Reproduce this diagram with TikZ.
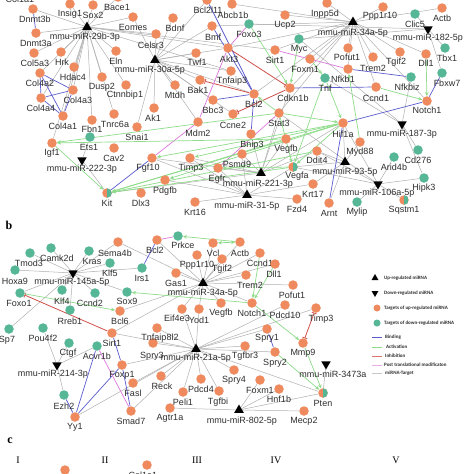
\documentclass[tikz,border=0pt]{standalone}
\usepackage{fontspec}
\setmainfont{Liberation Sans}
\newfontfamily\legf{Carlito}
\newfontfamily\serf{Liberation Serif}
\usetikzlibrary{shapes.geometric,arrows.meta}
\definecolor{cOr}{HTML}{EE8A5E}
\definecolor{cTe}{HTML}{55B795}
\definecolor{cGr}{HTML}{8EDC8A}
\definecolor{cBl}{HTML}{5B5BCF}
\definecolor{cRd}{HTML}{D0504A}
\definecolor{cPk}{HTML}{DC78DC}
\definecolor{cLn}{HTML}{B0B0B0}
\definecolor{cTx}{HTML}{2E2E2E}
\pgfdeclarelayer{bg}
\pgfsetlayers{bg,main}
\tikzset{
 ot/.style={circle,fill=cOr,minimum size=9.5pt,inner sep=0pt},
 tt/.style={circle,fill=cTe,minimum size=9.5pt,inner sep=0pt},
 mx/.style={circle,fill=cOr,minimum size=9.5pt,inner sep=0pt,
   path picture={\fill[cTe] (path picture bounding box.south) rectangle (path picture bounding box.north east);}},
 mup/.style={regular polygon,regular polygon sides=3,fill=black,minimum size=11pt,inner sep=0pt},
 mdn/.style={mup,shape border rotate=180},
 lb/.style={font=\fontsize{9}{10}\selectfont,text=cTx,inner sep=0pt},
 lg/.style={font=\legf\bfseries\fontsize{5}{6}\selectfont,text=cTx,inner sep=0pt,anchor=west},
 pl/.style={font=\serf\bfseries\fontsize{12}{13}\selectfont,inner sep=0pt},
 rn/.style={font=\serf\fontsize{10}{11}\selectfont,inner sep=0pt},
 mtl/.style={draw=cLn,line width=0.5pt},
 bnd/.style={draw=cBl,line width=0.7pt},
 act/.style={draw=cGr,line width=0.7pt,-{Stealth[length=4pt,width=3.5pt]}},
 inh/.style={draw=cRd,line width=0.8pt,-{Bar[width=5pt]}},
 ptm/.style={draw=cPk,line width=0.7pt},
}
\newcommand\gO[4]{\node[ot] (#1) at (#2) {}; \node[lb] (#1l) at (#3) {#4};}
\newcommand\gT[4]{\node[tt] (#1) at (#2) {}; \node[lb] (#1l) at (#3) {#4};}
\newcommand\gM[4]{\node[mx] (#1) at (#2) {}; \node[lb] (#1l) at (#3) {#4};}
\newcommand\mU[4]{\node[mup] (#1) at (#2) {}; \node[lb] (#1l) at (#3) {#4};}
\newcommand\mD[4]{\node[mdn] (#1) at (#2) {}; \node[lb] (#1l) at (#3) {#4};}
\newcommand\mtg[2]{\foreach \t in {#2} \draw[mtl] (#1) -- (\t);}
\begin{document}
\begin{tikzpicture}[x=1pt,y=-1pt]
\useasboundingbox (0,0) rectangle (474,474);
% ---------------- panel a ----------------
\node[lb] (aTop) at (20,-1) {Col1a1};
\gO{aIns}{70,4}{70,14}{Insig1}
\gO{aSox2}{93,5}{93,15}{Sox2}
\gO{aBace}{118,-3}{117,7}{Bace1}
\gO{aEom}{133,17}{133,27}{Eomes}
\gO{aDn3b}{33,9}{35,19}{Dnmt3b}
\gO{aDn3a}{36,33}{36,43}{Dnmt3a}
\gO{aC5a3}{34,53}{35,63}{Col5a3}
\gO{aHrk}{61,52}{62,62}{Hrk}
\gO{aC4a2}{40,73}{40,83}{Col4a2}
\gO{aHdac}{74,67}{73,77}{Hdac4}
\gO{aC4a3}{73,90}{78,100}{Col4a3}
\gO{aC4a4}{41,98}{41,108}{Col4a4}
\gO{aC4a1}{63,116}{63,126}{Col4a1}
\gO{aDusp}{102,77}{102,87}{Dusp2}
\gO{aEln}{116,51}{116,61}{Eln}
\gO{aCtn}{126,85}{125,95}{Ctnnbip1}
\gO{aTnr}{114,114}{115,124}{Tnrc6a}
\gO{aFbn}{92,120}{92,129}{Fbn1}
\gO{aCel}{156,34}{151,45}{Celsr3}
\gO{aBdnf}{173,18}{175,28}{Bdnf}
\gO{aB2l11}{207,0}{208,10}{Bcl2l11}
\gO{aAbc}{232,4}{233,15}{Abcb1b}
\gO{aBmf}{212,26}{213,37}{Bmf}
\gT{aFoxo3}{249,24}{249,34}{Foxo3}
\gO{aUcp2}{285,15}{285,25}{Ucp2}
\gT{aMyc}{299,39}{299,49}{Myc}
\gO{aAkt3}{228,48}{229,59}{Akt3}
\gO{aSirt1}{275,50}{275,60}{Sirt1}
\gO{aTwf1}{196,53}{197,62}{Twf1}
\gO{aTnfa}{231,71}{232,81}{Tnfaip3}
\gO{aFoxm1}{310,59}{305,69}{Foxm1}
\gO{aBak1}{200,80}{198,90}{Bak1}
\gO{aMtdh}{175,85}{175,95}{Mtdh}
\gO{aAk1}{154,108}{153,118}{Ak1}
\gO{aBcl2}{254,94}{254,104}{Bcl2}
\gO{aCdk}{290,88}{293,98}{Cdkn1b}
\gO{aBbc3}{213,100}{213,110}{Bbc3}
\gO{aCcne2}{233,114}{233,125}{Ccne2}
\gO{aStat3}{279,113}{279,123}{Stat3}
\gO{aMdm2}{198,122}{198,133}{Mdm2}
\gO{aSnai}{137,127}{137,137}{Snai1}
\gO{aInpp}{327,3}{325,14}{Inpp5d}
\gO{aPpp}{383,7}{380,16}{Ppp1r10}
\gO{aActb}{442,8}{442,18}{Actb}
\gT{aClic}{415,14}{415,24}{Clic5}
\gT{aTbx1}{445,48}{447,58}{Tbx1}
\gO{aPof}{348,48}{347,57}{Pofut1}
\gO{aTrem}{373,57}{373,68}{Trem2}
\gO{aTgif}{400,52}{396,62}{Tgif2}
\gO{aDll1}{426,54}{426,63}{Dll1}
\gT{aFbxw}{442,73}{447,83}{Fbxw7}
\gO{aNfkb}{348,69}{343,79}{Nfkb1}
\gT{aTnf}{325,78}{325,88}{Tnf}
\gT{aNfkz}{411,77}{407,87}{Nfkbiz}
\gO{aCcnd1}{376,87}{376,98}{Ccnd1}
\gO{aNotch}{427,101}{427,110}{Notch1}
\gO{aHif}{343,123}{343,134}{Hif1a}
\gO{aMyd}{360,142}{360,152}{Myd88}
\gO{aDdit}{317,151}{317,160}{Ddit4}
\gT{aArid}{394,157}{394,167}{Arid4b}
\gT{aCd276}{418,150}{418,160}{Cd276}
\gT{aHipk}{424,178}{424,188}{Hipk3}
\gO{aKrt17}{313,184}{313,194}{Krt17}
\gO{aArnt}{329,203}{329,213}{Arnt}
\gT{aMylip}{357,202}{357,212}{Mylip}
\gM{aSqst}{404,200}{404,210}{Sqstm1}
\gO{aBnip}{251,134}{252,145}{Bnip3}
\gO{aVegfb}{286,139}{286,149}{Vegfb}
\gO{aTimp}{190,158}{191,168}{Timp3}
\gO{aPsmd}{242,154}{237,164}{Psmd9}
\gO{aFgf}{152,158}{148,168}{Fgf10}
\gO{aEgfr}{218,168}{217,179}{Egfr}
\gM{aVegfa}{293,167}{297,176}{Vegfa}
\gO{aPdgf}{165,180}{165,191}{Pdgfb}
\gO{aKrt16}{195,202}{195,212}{Krt16}
\gO{aFzd}{297,199}{297,209}{Fzd4}
\gT{aEts}{90,137}{89,147}{Ets1}
\gO{aIgf}{52,143}{52,153}{Igf1}
\gO{aCav}{114,148}{114,158}{Cav2}
\gM{aKit}{107,193}{107,203}{Kit}
\gO{aDlx}{141,193}{141,203}{Dlx3}
\mU{m29b}{87,27}{85,37}{mmu-miR-29b-3p}
\mU{m30a}{155,60}{150,70}{mmu-miR-30a-5p}
\mU{m34a}{353,22}{353,33}{mmu-miR-34a-5p}
\mD{m182}{428,29}{428,38}{mmu-miR-182-5p}
\mD{m187}{402,124}{402,134}{mmu-miR-187-3p}
\mU{m93}{345,162}{345,172}{mmu-miR-93-5p}
\mD{m106}{378,184}{377,193}{mmu-miR-106a-5p}
\mU{m221}{261,173}{258,184}{mmu-miR-221-3p}
\mU{m31}{247,195}{247,206}{mmu-miR-31-5p}
\mD{m222}{82,160}{82,169}{mmu-miR-222-3p}
% ---------------- panel b ----------------
\node[pl] (pb) at (9,225) {b};
\gO{bSema}{118,242}{115,253}{Sema4b}
\gO{bBcl2}{157,240}{155,250}{Bcl2}
\gT{bCamk}{51,248}{57,258}{Camk2d}
\gT{bKras}{89,251}{92,261}{Kras}
\gT{bTmod}{30,253}{29,263}{Tmod3}
\gT{bHox}{15,270}{15,281}{Hoxa9}
\gT{bKlf5}{110,263}{110,273}{Klf5}
\gT{bIrs1}{142,268}{142,278}{Irs1}
\gT{bFoxo1}{20,293}{19,303}{Foxo1}
\gT{bKlf4}{62,290}{62,301}{Klf4}
\gT{bCcnd2}{95,293}{90,303}{Ccnd2}
\gT{bSox9}{127,292}{127,301}{Sox9}
\gT{bRreb}{70,310}{70,321}{Rreb1}
\gO{bBcl6}{120,311}{120,321}{Bcl6}
\gT{bSp7}{9,329}{7,340}{Sp7}
\gT{bPou}{43,328}{43,338}{Pou4f2}
\gO{bSirt1}{112,333}{112,343}{Sirt1}
\gT{bCtgf}{69,343}{68,353}{Ctgf}
\gT{bAcvr}{97,346}{97,356}{Acvr1b}
\gO{bSpry3}{153,343}{152,356}{Spry3}
\gO{bTnf8}{157,328}{160,338}{Tnfaip8l2}
\gT{bPrkce}{178,236}{183,245}{Prkce}
\gO{bVcl}{213,243}{213,253}{Vcl}
\gO{bActb}{240,242}{240,253}{Actb}
\gO{bPpp}{197,255}{197,265}{Ppp1r10}
\gO{bTgif}{222,259}{222,269}{Tgif2}
\gO{bCcnd1}{260,253}{260,263}{Ccnd1}
\gO{bDll1}{275,264}{274,274}{Dll1}
\gO{bGas1}{176,273}{176,283}{Gas1}
\gO{bTrem}{246,275}{250,285}{Trem2}
\gO{bPof}{293,285}{292,295}{Pofut1}
\gO{bVegfb}{221,303}{221,313}{Vegfb}
\gO{bNotch}{252,303}{252,313}{Notch1}
\gO{bPdcd10}{285,305}{285,315}{Pdcd10}
\gO{bEif}{182,309}{177,318}{Eif4e3}
\gO{bYod}{199,309}{199,320}{Yod1}
\gO{bTimp}{316,308}{321,319}{Timp3}
\gO{bSpry1}{267,329}{267,338}{Spry1}
\gO{bMmp9}{303,343}{303,353}{Mmp9}
\gO{bTgfbr3}{245,346}{245,356}{Tgfbr3}
\gO{bSpry2}{275,352}{275,363}{Spry2}
\gM{bPten}{323,393}{323,403}{Pten}
\gO{bFoxp1}{122,365}{122,375}{Foxp1}
\gO{bFasl}{133,383}{133,393}{Fasl}
\gO{bReck}{161,376}{162,386}{Reck}
\gT{bEzh2}{64,395}{64,406}{Ezh2}
\gO{bYy1}{75,417}{75,427}{Yy1}
\gO{bSmad7}{131,411}{131,421}{Smad7}
\gO{bPdcd4}{201,379}{201,389}{Pdcd4}
\gO{bSpry4}{234,370}{234,380}{Spry4}
\gO{bFoxm1}{260,380}{260,390}{Foxm1}
\gO{bHnf}{279,389}{279,399}{Hnf1b}
\gO{bPeli}{183,392}{183,402}{Peli1}
\gO{bTgfbi}{219,391}{218,402}{Tgfbi}
\gO{bAgtr}{170,408}{170,418}{Agtr1a}
\gO{bMecp}{304,411}{304,421}{Mecp2}
\mD{m145}{73,273}{72,282}{mmu-miR-145a-5p}
\mU{m34b}{203,283}{203,293}{mmu-miR-34a-5p}
\mU{m21a}{196,349}{196,358}{mmu-miR-21a-5p}
\mU{m802}{239,410}{242,421}{mmu-miR-802-5p}
\mD{m214}{57,365}{53,374}{mmu-miR-214-3p}
\mD{m3473}{326,364}{333,374}{mmu-miR-3473a}
% ---------------- legend ----------------
\node[mup,minimum size=8pt] (lgU) at (375,278) {};
\node[lg] (lgUt) at (384,278) {Up-regulated miRNA};
\node[mdn,minimum size=8pt] (lgD) at (375,293) {};
\node[lg] (lgDt) at (384,293) {Down-regulated miRNA};
\node[ot,minimum size=7pt] (lgO) at (377,308) {};
\node[lg] (lgOt) at (384,308) {Targets of up-regulated miRNA};
\node[tt,minimum size=7pt] (lgT) at (377,323) {};
\node[lg] (lgTt) at (384,323) {Targets of down-regulated miRNA};
\coordinate (l1a) at (372,337); \coordinate (l1b) at (382,337);
\coordinate (l2a) at (372,347); \coordinate (l2b) at (382,347);
\coordinate (l3a) at (372,356); \coordinate (l3b) at (382,356);
\coordinate (l4a) at (372,365); \coordinate (l4b) at (382,365);
\coordinate (l5a) at (372,373); \coordinate (l5b) at (382,373);
\draw[cBl,line width=0.7pt] (l1a)--(l1b);
\draw[cGr,line width=0.7pt] (l2a)--(l2b);
\draw[cRd!80,line width=0.7pt] (l3a)--(l3b);
\draw[cPk!60,line width=0.7pt] (l4a)--(l4b);
\draw[cLn!70,line width=0.7pt] (l5a)--(l5b);
\node[lg] (lg1) at (385,337) {Binding};
\node[lg] (lg2) at (386,347) {Activation};
\node[lg] (lg3) at (385,356) {Inhibition};
\node[lg] (lg4) at (384,365) {Post translational modificaton};
\node[lg] (lg5) at (385,373) {miRNA-Target};
% ---------------- panel c (top edge) ----------------
\node[pl] (pc) at (10,441) {c};
\node[rn] (r1) at (18,460) {I};
\node[rn] (r2) at (105,460) {II};
\node[rn] (r3) at (197,460) {III};
\node[rn] (r4) at (276,460) {IV};
\node[rn] (r5) at (396,460) {V};
\node[ot] (cN1) at (65,470) {};
\node[ot] (cN2) at (147,465) {};
\node[lb] (cN2l) at (143,475) {Col1a1};
% ---------------- edges ----------------
\begin{pgfonlayer}{bg}
\fill[white] (0,0) rectangle (474,474);
\mtg{m29b}{aIns,aSox2,aBace,aEom,aDn3b,aDn3a,aC5a3,aHrk,aC4a2,aHdac,aC4a3,aC4a4,aC4a1,aDusp,aEln,aCtn,aTnr,aFbn,aCel,aIgf,aAkt3,aTnfa,aSirt1}
\mtg{m30a}{aCel,aBdnf,aBmf,aTwf1,aMtdh,aBak1,aAk1,aAkt3,aB2l11,aEom,aSnai,aBbc3,aTnfa,aMdm2,aCcne2,aBcl2}
\mtg{m34a}{aInpp,aPpp,aActb,aPof,aTrem,aTgif,aDll1,aNfkb,aCcnd1,aNotch,aSirt1,aFoxm1,aBcl2,aUcp2,aCdk,aAkt3,aAbc,aBmf,aStat3}
\mtg{m182}{aClic,aTbx1,aFbxw,aFoxo3,aMyc}
\mtg{m187}{aNfkz,aCd276,aHipk,aTnf,aMyc}
\mtg{m93}{aDdit,aVegfa,aKrt17,aHif,aMyd,aArnt}
\mtg{m106}{aArid,aMylip,aSqst,aHipk,aHif,aVegfa,aDdit,aStat3}
\mtg{m221}{aBnip,aPsmd,aEgfr,aVegfb,aStat3,aTimp,aCdk,aKit,aDdit,aFgf,aHif}
\mtg{m31}{aKrt16,aFzd,aPdgf,aEgfr,aVegfa,aFgf,aTimp,aKrt17,aPsmd}
\mtg{m222}{aEts,aKit}
\draw[bnd] (aDn3b)--(aDn3a);
\draw[bnd] (aC4a2)--(aC4a3); \draw[bnd] (aC4a2)--(aC4a4); \draw[bnd] (aC4a2)--(aC4a1);
\draw[bnd] (aC4a3)--(aC4a4); \draw[bnd] (aC4a4)--(aC4a1); \draw[bnd] (aC4a3)--(aC4a1);
\draw[bnd] (aB2l11)--(aBcl2); \draw[bnd] (aBmf)--(aBcl2); \draw[bnd] (aBcl2)--(aBnip);
\draw[bnd] (aBbc3)--(aBcl2); \draw[bnd] (aCdk)--(aCcnd1);
\draw[bnd] (aNfkb)--(aNfkz); \draw[bnd] (aNotch)--(aFbxw); \draw[bnd] (aNotch)--(aHif);
\draw[bnd] (aHif)--(aArnt); \draw[bnd] (aKit)--(aFgf);
\draw[inh] (aBcl2)--(aBak1); \draw[inh] (aCdk)--(aCcne2); \draw[inh] (aAkt3)--(aCdk);
\draw[ptm] (aAkt3)--(aFoxo3); \draw[ptm] (aSirt1)--(aNfkb); \draw[ptm] (aEgfr)--(aStat3);
\draw[ptm] (aFgf)--(aMdm2); \draw[ptm] (aAkt3)--(aMdm2);
\draw[act] (aFoxo3)--(aCdk); \draw[act] (aMyc)--(aCdk); \draw[act] (aStat3)--(aHif);
\draw[act] (aHif)--(aVegfa); \draw[act] (aStat3)--(aVegfa); \draw[act] (aVegfa)--(aKit);
\draw[act] (aHif)--(aKit); \draw[act] (aVegfb)--(aKit); \draw[act] (aDdit)--(aKit);
\draw[act] (aStat3)--(aIgf); \draw[act] (aVegfb)--(aIgf); \draw[act] (aIgf)--(aKit);
\draw[act] (aMyd)--(aNfkb); \draw[act] (aTnf)--(aHif); \draw[act] (aCcnd1)--(aNotch);
\draw[act] (aDll1)--(aNotch); \draw[act] (aHif)--(aPdgf); \draw[act] (aFoxm1)--(aTnf);
\draw[act] (aStat3)--(aBcl2); \draw[act] (aHif)--(aTimp); \draw[act] (aVegfa)--(aEgfr);
\draw[act] (aTnf)--(aVegfa); \draw[act] (aHif)--(aFgf);
% panel b
\mtg{m145}{bTmod,bCamk,bKras,bKlf5,bHox,bFoxo1,bKlf4,bCcnd2,bRreb,bSox9,bIrs1,bSema,bSp7}
\mtg{m34b}{bBcl2,bVcl,bActb,bPpp,bTgif,bCcnd1,bDll1,bGas1,bTrem,bPof,bVegfb,bNotch,bEif,bYod,bSirt1,bBcl6,bSema}
\mtg{m21a}{bTnf8,bSpry3,bReck,bPeli,bPdcd4,bTgfbi,bSpry4,bSpry1,bSpry2,bTgfbr3,bPdcd10,bTimp,bFasl,bSmad7,bYy1,bPten,bEif,bYod,bSirt1,bFoxp1}
\mtg{m802}{bAgtr,bFoxm1,bHnf,bMecp,bPten}
\mtg{m214}{bCtgf,bEzh2,bPou,bAcvr}
\mtg{m3473}{bPten}
\draw[inh] (bSirt1)--(bFoxo1);
\draw[draw=cRd,line width=0.8pt,{Bar[width=5pt]}-{Bar[width=5pt]}] (bTimp)--(bMmp9);
\draw[act] (bFoxo1)--(bBcl6); \draw[act] (bNotch)--(bSox9); \draw[act] (bActb)--(bPrkce);
\draw[act,{Stealth[length=4pt,width=3.5pt]}-{Stealth[length=4pt,width=3.5pt]}] (bVcl)--(bActb);
\draw[act] (bCcnd1)--(bNotch); \draw[act] (bDll1)--(bNotch); \draw[act] (bNotch)--(bMmp9);
\draw[act] (bSpry2)--(bPten); \draw[act] (bMmp9)--(bPten);
\draw[bnd] (bIrs1)--(bBcl2); \draw[bnd] (bSpry1)--(bSpry2); \draw[bnd] (bSirt1)--(bFoxp1);
\draw[bnd] (bFoxp1)--(bYy1); \draw[bnd] (bEzh2)--(bYy1); \draw[bnd] (bFoxp1)--(bSmad7);
\draw[bnd] (bAcvr)--(bYy1);
\draw[ptm] (bAcvr)--(bSmad7); \draw[ptm] (bPrkce)--(bBcl2);
\end{pgfonlayer}
\end{tikzpicture}
\end{document}
